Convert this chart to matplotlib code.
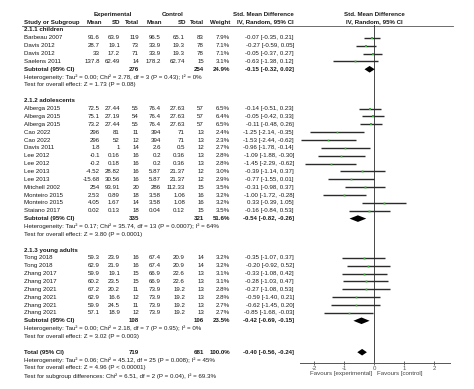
import matplotlib
matplotlib.use("Agg")
import matplotlib.pyplot as plt

plt.rcParams["font.family"] = ["Liberation Sans", "DejaVu Sans"]

# ── data ──
GROUPS = ["2.1.1 children", "2.1.2 adolescents", "2.1.3 young adults"]
GROUP_SIZES = [4, 14, 8]
STUDIES = ["Barbeau 2007", "Davis 2012", "Davis 2012", "Saelens 2011",
           "Alberga 2015", "Alberga 2015", "Alberga 2015", "Cao 2022", "Cao 2022",
           "Davis 2011", "Lee 2012", "Lee 2012", "Lee 2013", "Lee 2013",
           "Mitchell 2002", "Monteiro 2015", "Monteiro 2015", "Staiano 2017",
           "Tong 2018", "Tong 2018", "Zhang 2017", "Zhang 2017",
           "Zhang 2021", "Zhang 2021", "Zhang 2021", "Zhang 2021"]
EXP_MEAN = [91.6, 28.7, 33, 137.8,
            72.5, 75.1, 73.2, 296, 296, 1.8, -0.1, -0.2, -4.52, -15.68, 254, 2.53, 4.05, 0.02,
            59.3, 62.9, 59.9, 60.2, 67.2, 62.9, 59.9, 57.1]
EXP_SD = [63.9, 19.1, 17.2, 62.49,
          27.44, 27.19, 27.44, 81, 52, 1, 0.16, 0.18, 28.82, 30.56, 93.91, 0.89, 1.67, 0.13,
          23.9, 21.9, 19.1, 23.5, 20.2, 16.6, 24.5, 18.9]
EXP_N = [119, 73, 71, 14,
         55, 54, 55, 11, 12, 14, 16, 16, 16, 16, 20, 18, 14, 18,
         16, 16, 15, 15, 11, 12, 11, 12]
CTL_MEAN = [96.5, 33.9, 33.9, 178.2,
            76.4, 76.4, 76.4, 394, 394, 2.6, 0.2, 0.2, 5.87, 5.87, 286, 3.58, 3.58, 0.04,
            67.4, 67.4, 66.9, 66.9, 73.9, 73.9, 73.9, 73.9]
CTL_SD = [65.1, 19.3, 19.3, 62.74,
          27.63, 27.63, 27.63, 71, 71, 0.5, 0.36, 0.36, 21.37, 21.37, 112.33, 1.06, 1.08, 0.12,
          20.9, 20.9, 22.6, 22.6, 19.2, 19.2, 19.2, 19.2]
CTL_N = [83, 78, 78, 15,
         57, 57, 57, 13, 13, 12, 13, 13, 12, 12, 15, 16, 16, 15,
         14, 14, 13, 13, 13, 13, 13, 13]
WEIGHT = [7.9, 7.1, 7.1, 3.1,
          6.5, 6.4, 6.5, 2.4, 2.3, 2.7, 2.8, 2.8, 3.0, 2.9, 3.5, 3.2, 3.2, 3.5,
          3.2, 3.2, 3.1, 3.1, 2.8, 2.8, 2.7, 2.7]
SMD = [-0.07, -0.27, -0.05, -0.63,
       -0.14, -0.05, -0.11, -1.25, -1.53, -0.96, -1.09, -1.45, -0.39, -0.77, -0.31, -1.00, 0.33, -0.16,
       -0.35, -0.20, -0.33, -0.28, -0.27, -0.59, -0.62, -0.85]
LO = [-0.35, -0.59, -0.37, -1.38,
      -0.51, -0.42, -0.48, -2.14, -2.44, -1.78, -1.88, -2.29, -1.14, -1.55, -0.98, -1.72, -0.39, -0.84,
      -1.07, -0.92, -1.08, -1.03, -1.08, -1.40, -1.45, -1.68]
HI = [0.21, 0.05, 0.27, 0.12,
      0.23, 0.33, 0.26, -0.35, -0.62, -0.14, -0.30, -0.62, 0.37, 0.01, 0.37, -0.28, 1.05, 0.53,
      0.37, 0.52, 0.42, 0.47, 0.53, 0.21, 0.20, -0.03]

SUB_N_EXP = [276, 335, 108]
SUB_N_CTL = [254, 321, 106]
SUB_WEIGHT = [24.9, 51.6, 23.5]
SUB_SMD = [-0.15, -0.54, -0.42]
SUB_LO = [-0.32, -0.82, -0.69]
SUB_HI = [0.02, -0.26, -0.15]
SUB_HET = ["Heterogeneity: Tau² = 0.00; Chi² = 2.78, df = 3 (P = 0.43); I² = 0%",
           "Heterogeneity: Tau² = 0.17; Chi² = 35.74, df = 13 (P = 0.0007); I² = 64%",
           "Heterogeneity: Tau² = 0.00; Chi² = 2.18, df = 7 (P = 0.95); I² = 0%"]
SUB_TEST = ["Test for overall effect: Z = 1.73 (P = 0.08)",
            "Test for overall effect: Z = 3.80 (P = 0.0001)",
            "Test for overall effect: Z = 3.02 (P = 0.003)"]

TOTAL_N = [719, 681]
TOTAL_WEIGHT = 100.0
TOTAL_SMD, TOTAL_LO, TOTAL_HI = -0.40, -0.56, -0.24
TOTAL_NOTES = ["Heterogeneity: Tau² = 0.06; Chi² = 45.12, df = 25 (P = 0.008); I² = 45%",
               "Test for overall effect: Z = 4.96 (P < 0.00001)",
               "Test for subgroup differences: Chi² = 6.51, df = 2 (P = 0.04), I² = 69.3%"]

XTICKS = [-2, -1, 0, 1, 2]

# ── layout (pixels across, rows down) ──
W, H = 474, 389
ROW0, ROWH = 22.1, 7.86          # pixel y of header row, pixels per row


def px2row(y):
    return (y - ROW0) / ROWH


FS = 4.4
TXT = "#1a1a1a"
LINE = "#2b2b2b"
GREEN = "#3cae3c"
COLS = [100, 120, 139, 161, 185, 204, 230]   # right edges of numeric columns
CI_X = 294
NAME_X = 24

fig = plt.figure(figsize=(W / 100, H / 100), dpi=100)
ax = fig.add_axes([0, 0, 1, 1])
ax.set_xlim(0, W)
ax.set_ylim(px2row(H), px2row(0))
ax.axis("off")

# forest panel: x in SMD units, y in rows (same row scale as the table)
fx0, fx1, fy0, fy1 = 300, 450, 25, 363
fax = fig.add_axes([fx0 / W, 1 - fy1 / H, (fx1 - fx0) / W, (fy1 - fy0) / H])
fax.set_xlim(-2.47, 2.53)
fax.set_ylim(px2row(fy1), px2row(fy0))
fax.patch.set_alpha(0)
for s in ("left", "right", "top"):
    fax.spines[s].set_visible(False)
fax.spines["bottom"].set_color("#555555")
fax.spines["bottom"].set_linewidth(0.7)
fax.set_yticks([])
fax.set_xticks(XTICKS)
fax.set_xticklabels([str(t) for t in XTICKS], fontsize=FS, color="#444444")
fax.tick_params(axis="x", direction="inout", length=3, width=0.6, pad=1, colors="#555555")
fax.axvline(0, color=LINE, lw=0.6, zorder=1)


def t(x, r, s, ha="left", bold=False, color=TXT):
    ax.text(x, r, s, ha=ha, va="center", fontsize=FS, color=color,
            fontweight="bold" if bold else "normal")


def diamond(r, m, lo, hi, h=0.42):
    fax.fill([lo, m, hi, m], [r, r - h, r, r + h], color="black", lw=0, zorder=3)


# headers
t(113, -1, "Experimental", ha="center", bold=True)
t(173, -1, "Control", ha="center", bold=True)
t(CI_X, -1, "Std. Mean Difference", ha="right", bold=True)
t(374, -1, "Std. Mean Difference", ha="center", bold=True)
t(NAME_X, 0, "Study or Subgroup", bold=True)
for x, s in zip([102, 120, 139, 162, 186, 204, 230],
                ["Mean", "SD", "Total", "Mean", "SD", "Total", "Weight"]):
    t(x, 0, s, ha="right", bold=True)
t(CI_X, 0, "IV, Random, 95% CI", ha="right", bold=True)
t(374, 0, "IV, Random, 95% CI", ha="center", bold=True)
ax.plot([22, 453], [px2row(26), px2row(26)], color="#555555", lw=0.6)

# body
r = 1
i = 0
for g, name in enumerate(GROUPS):
    t(NAME_X, r, name, bold=True)
    r += 1
    for _ in range(GROUP_SIZES[g]):
        t(NAME_X, r, STUDIES[i])
        vals = [f"{EXP_MEAN[i]:g}", f"{EXP_SD[i]:g}", str(EXP_N[i]),
                f"{CTL_MEAN[i]:g}", f"{CTL_SD[i]:g}", str(CTL_N[i]), f"{WEIGHT[i]:.1f}%"]
        for x, s in zip(COLS, vals):
            t(x, r, s, ha="right")
        t(CI_X, r, f"{SMD[i]:.2f} [{LO[i]:.2f}, {HI[i]:.2f}]", ha="right")
        fax.hlines(r, LO[i], HI[i], colors=LINE, lw=1.0, zorder=2)
        fax.plot(SMD[i], r, "s", color=GREEN, ms=0.75 * WEIGHT[i] ** 0.5, mew=0, zorder=3)
        r += 1
        i += 1
    t(NAME_X, r, "Subtotal (95% CI)", bold=True)
    t(COLS[2], r, str(SUB_N_EXP[g]), ha="right", bold=True)
    t(COLS[5], r, str(SUB_N_CTL[g]), ha="right", bold=True)
    t(COLS[6], r, f"{SUB_WEIGHT[g]:.1f}%", ha="right", bold=True)
    t(CI_X, r, f"{SUB_SMD[g]:.2f} [{SUB_LO[g]:.2f}, {SUB_HI[g]:.2f}]", ha="right", bold=True)
    diamond(r, SUB_SMD[g], SUB_LO[g], SUB_HI[g])
    t(NAME_X, r + 1, SUB_HET[g])
    t(NAME_X, r + 2, SUB_TEST[g])
    r += 4

t(NAME_X, r, "Total (95% CI)", bold=True)
t(COLS[2], r, str(TOTAL_N[0]), ha="right", bold=True)
t(COLS[5], r, str(TOTAL_N[1]), ha="right", bold=True)
t(COLS[6], r, f"{TOTAL_WEIGHT:.1f}%", ha="right", bold=True)
t(CI_X, r, f"{TOTAL_SMD:.2f} [{TOTAL_LO:.2f}, {TOTAL_HI:.2f}]", ha="right", bold=True)
diamond(r, TOTAL_SMD, TOTAL_LO, TOTAL_HI)
for k, note in enumerate(TOTAL_NOTES):
    t(NAME_X, r + 1 + k, note)

# favours labels under the axis
t(372, px2row(374), "Favours [experimental]", ha="right", color="#444444")
t(377, px2row(374), "Favours [control]", color="#444444")

fig.savefig("out.png", dpi=100)
